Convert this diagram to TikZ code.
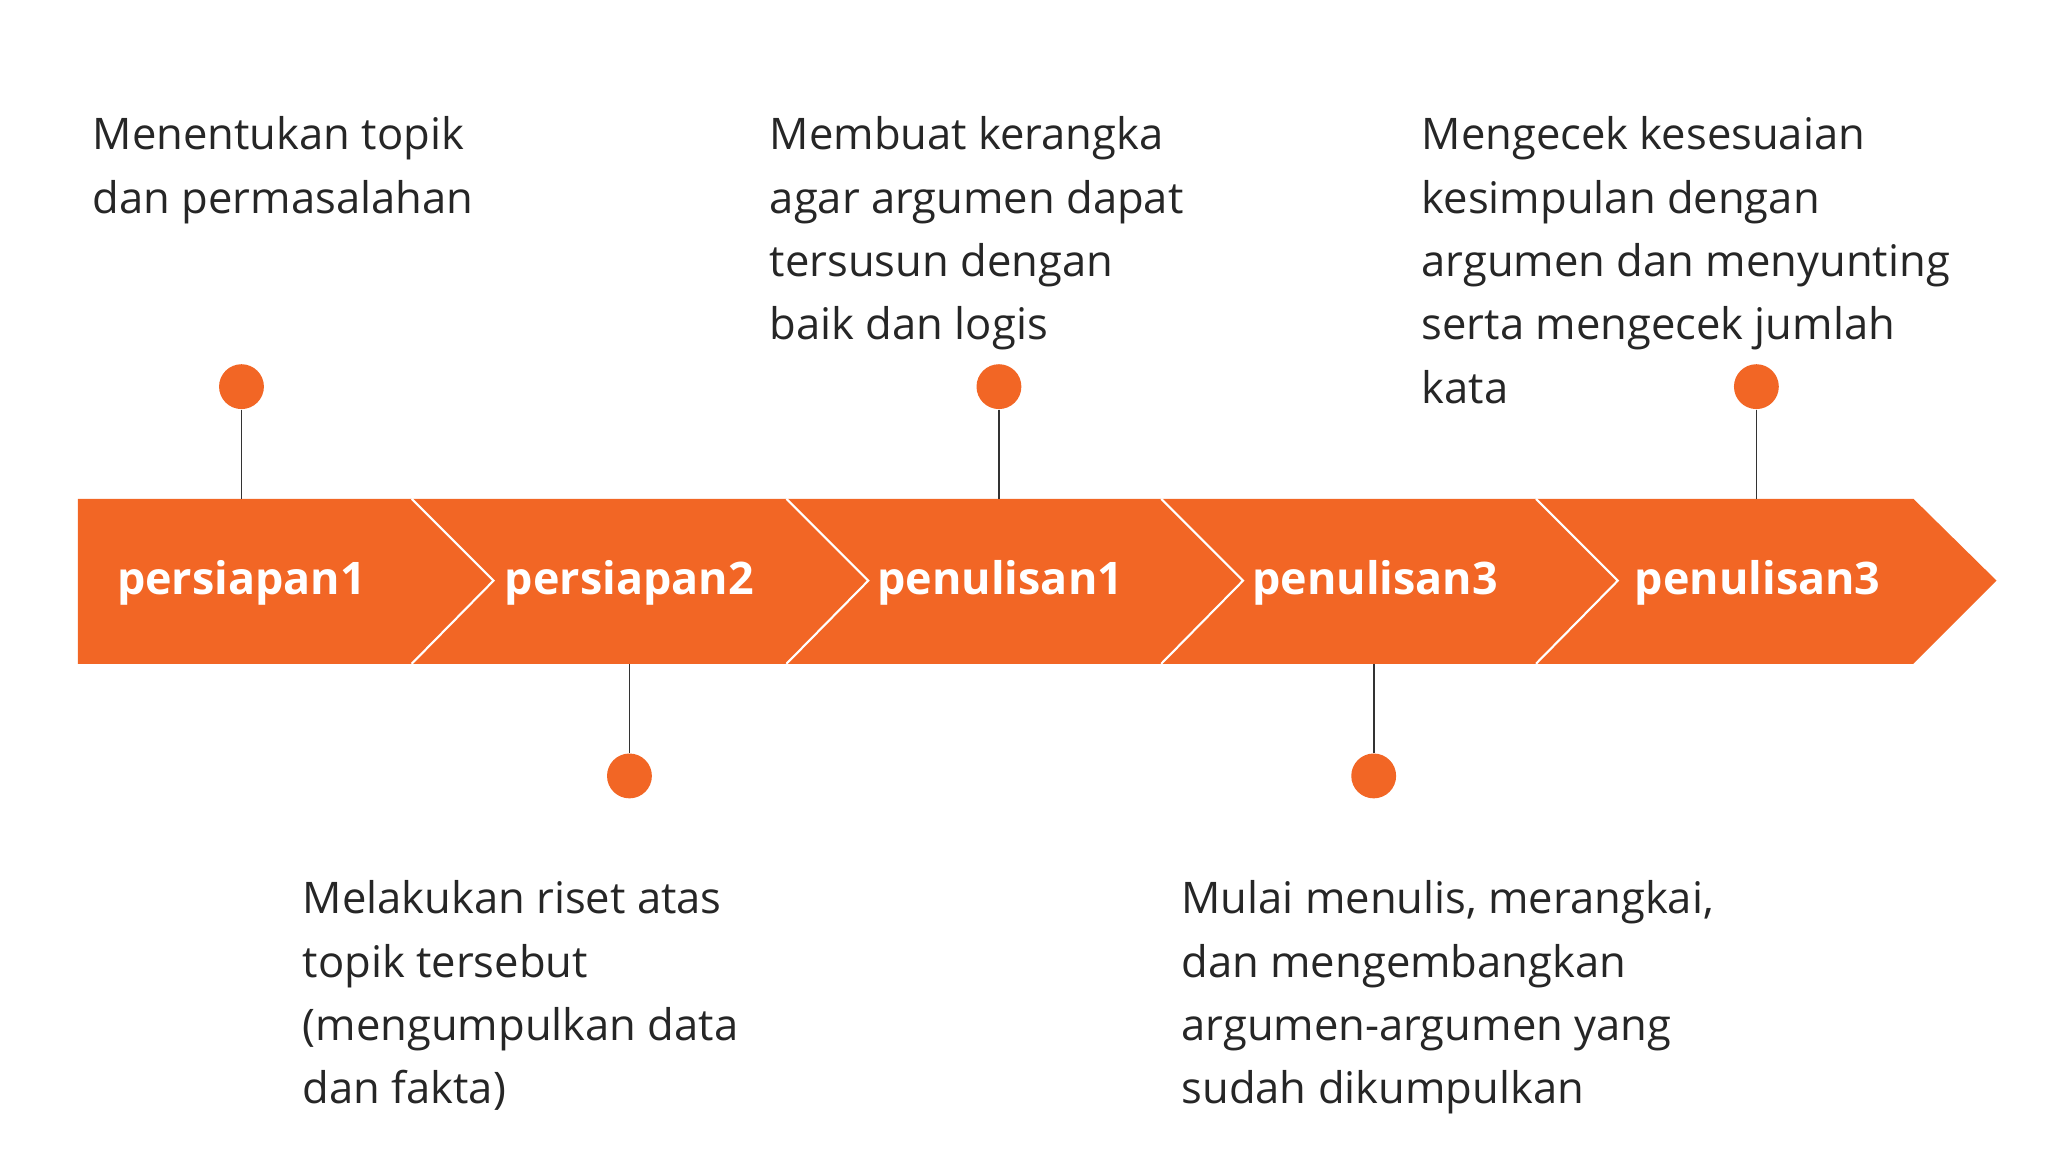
\documentclass[tikz,border=0pt]{standalone}
\usepackage{fontspec}
\setmainfont{Open Sans}
\definecolor{org}{HTML}{F26625}
\begin{document}
\begin{tikzpicture}[x=0.5pt,y=-0.5pt,
  lab/.style={font=\fontsize{17}{20}\selectfont\bfseries,text=white},
  desc/.style={font=\fontsize{16.5}{24}\selectfont,anchor=north west,align=left,inner sep=0pt,text=black!85},
  pin/.style={circle,fill=org,minimum size=17pt,inner sep=0pt},
  stem/.style={draw=black!80,line width=0.6pt}]
\useasboundingbox (0,0) rectangle (1552,873);
\fill[org] (59,378) -- (1450,378) -- (1513,440) -- (1450,503) -- (59,503) -- cycle;
\foreach \x in {312,596,880,1164}{
  \draw[white,line width=0.8pt] (\x,378) -- (\x+62,440) -- (\x,503);}
\node[lab] (l1) at (183,442) {persiapan1};
\node[lab] (l2) at (477,442) {persiapan2};
\node[lab] (l3) at (758,442) {penulisan1};
\node[lab] (l4) at (1042,442) {penulisan3};
\node[lab] (l5) at (1332,442) {penulisan3};
\coordinate (t1) at (183,378); \coordinate (t3) at (757,378); \coordinate (t5) at (1331,378);
\coordinate (b2) at (477,503); \coordinate (b4) at (1041,503);
\node[pin] (p1) at (183,293) {};
\node[pin] (p3) at (757,293) {};
\node[pin] (p5) at (1331,293) {};
\node[pin] (p2) at (477,588) {};
\node[pin] (p4) at (1041,588) {};
\draw[stem] (p1) -- (t1); \draw[stem] (p3) -- (t3); \draw[stem] (p5) -- (t5);
\draw[stem] (p2) -- (b2); \draw[stem] (p4) -- (b4);
\node[desc] (d1) at (70,88) {Menentukan topik\\dan permasalahan};
\node[desc] (d3) at (583,88) {Membuat kerangka\\agar argumen dapat\\tersusun dengan\\baik dan logis};
\node[desc] (d5) at (1077,88) {Mengecek kesesuaian\\kesimpulan dengan\\argumen dan menyunting\\serta mengecek jumlah\\kata};
\node[desc] (d2) at (229,667) {Melakukan riset atas\\topik tersebut\\(mengumpulkan data\\dan fakta)};
\node[desc] (d4) at (895,667) {Mulai menulis, merangkai,\\dan mengembangkan\\argumen-argumen yang\\sudah dikumpulkan};
\end{tikzpicture}
\end{document}
